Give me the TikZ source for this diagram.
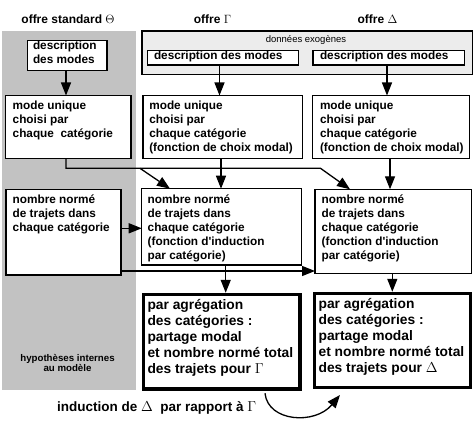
\documentclass[tikz,border=0pt]{standalone}
\usepackage{fontspec}
\setmainfont{Liberation Sans}
\usetikzlibrary{arrows.meta,calc}
\definecolor{colgray}{gray}{0.76}
\definecolor{exogray}{gray}{0.925}
\newcommand\txtlines[1]{\parbox[t]{200pt}{\raggedright\strut #1}}
\begin{document}
\begin{tikzpicture}[x=1pt,y=-1pt,
  box/.style={draw=black, line width=1.2pt, fill=white, outer sep=0pt, inner sep=0pt, anchor=north west},
  bigbox/.style={box, line width=3.5pt},
  txt/.style={anchor=north west, inner sep=0pt, outer sep=0pt, font=\bfseries\fontsize{11.8}{14}\selectfont},
  bigtxt/.style={txt, font=\bfseries\fontsize{13.8}{16}\selectfont},
  conn/.style={line width=1.3pt},
  arr/.style={conn, -{Triangle[length=13pt,width=10pt]}},
  title/.style={anchor=base, inner sep=0pt, font=\bfseries\fontsize{12}{14}\selectfont},
]
\useasboundingbox (0,0) rectangle (474,438);
\fill[white] (0,0) rectangle (474,438);

% background zones
\node[fill=colgray, inner sep=0pt, outer sep=0pt, anchor=north west, minimum width=134, minimum height=358.5] (internal) at (2,31) {};
\node[draw=black, line width=1.2pt, fill=exogray, inner sep=0pt, outer sep=0pt, anchor=north west, minimum width=330.7, minimum height=43.3] (exo) at (142,31) {};

% titles
\node[title] (t1) at (68,23.3) {offre standard $\Theta$};
\node[title] (t2) at (212.5,23.3) {offre $\Gamma$};
\node[title] (t3) at (377.5,23.3) {offre $\Delta$};
\node[anchor=base, inner sep=0pt, font=\fontsize{9.5}{11}\selectfont] (exolabel) at (306,42.3) {données exogènes};
\node[anchor=base, inner sep=0pt, align=center, font=\bfseries\fontsize{9.7}{10.6}\selectfont] (hyp) at (67.5,371.7) {hypothèses internes\\au modèle};

% boxes
\node[box, minimum width=79.3, minimum height=30.3] (dth) at (27.7,40.2) {};
\node[box, minimum width=150.6, minimum height=14.7] (dG) at (147.7,50.3) {};
\node[box, minimum width=151.3, minimum height=14.7] (dD) at (313,50.3) {};
\node[box, minimum width=125.2, minimum height=62.8] (mth) at (5.8,95.5) {};
\node[box, minimum width=159.8, minimum height=62.8] (mG) at (143,95.5) {};
\node[box, minimum width=156.7, minimum height=62.8] (mD) at (312.8,95.5) {};
\node[box, minimum width=115, minimum height=85.7] (nth) at (6,189.3) {};
\node[box, minimum width=160, minimum height=76.3] (nG) at (141.7,188.7) {};
\node[box, minimum width=156.7, minimum height=84.4] (nD) at (315,189.3) {};
\node[bigbox, minimum width=156.5, minimum height=94.7] (bG) at (143.5,294.3) {};
\node[bigbox, minimum width=156.4, minimum height=94.4] (bD) at (314.3,293.3) {};

% texts
\node[txt] (xdth) at (33,40) {\txtlines{description\\des modes}};
\node[txt] (xdG) at (154,50.2) {\txtlines{description des modes}};
\node[txt] (xdD) at (320,50.2) {\txtlines{description des modes}};
\node[txt] (xmth) at (12.7,100.2) {\txtlines{mode unique\\choisi par\\chaque~~catégorie}};
\node[txt] (xmG) at (149.3,100.2) {\txtlines{mode unique\\choisi par\\chaque catégorie\\(fonction de choix modal)}};
\node[txt] (xmD) at (320,100.2) {\txtlines{mode unique\\choisi par\\chaque catégorie\\(fonction de choix modal)}};
\node[txt] (xnth) at (12.7,194.2) {\txtlines{nombre normé\\de trajets dans\\chaque catégorie}};
\node[txt] (xnG) at (147.7,194.2) {\txtlines{nombre normé\\de trajets dans\\chaque catégorie\\(fonction d\textquotesingle induction\\par catégorie)}};
\node[txt] (xnD) at (321.7,194.2) {\txtlines{nombre normé\\de trajets dans\\chaque catégorie\\(fonction d\textquotesingle induction\\par catégorie)}};
\node[bigtxt] (xbG) at (147.5,298.3) {\txtlines{par agrégation\\des catégories :\\partage modal\\et nombre normé total\\des trajets pour $\Gamma$}};
\node[bigtxt] (xbD) at (318.6,297.8) {\txtlines{par agrégation\\des catégories :\\partage modal\\et nombre normé total\\des trajets pour $\Delta$}};

\node[anchor=base west, inner sep=0pt, font=\bfseries\fontsize{13.5}{16}\selectfont] (induc) at (57,411.5) {induction de $\Delta$\ \ par rapport à $\Gamma$};

% connectors
\draw[arr] (dth.south -| 66,0) -- (mth.north -| 66,0);
\draw[arr] (dG.south -| 219.5,0) -- (mG.north -| 219.5,0);
\draw[arr] (dD.south -| 387,0) -- (mD.north -| 387,0);
\coordinate (j0) at (66,168.3);
\coordinate (j1) at (140,168.3);
\coordinate (j2) at (320.5,168.3);
\draw[arr] (mth.south -| j0) -- (j0) -- (j2) -- (nD.north -| 350,0);
\draw[arr] (j1) -- (nG.north -| 170,0);
\draw[arr] (mG.south -| 221,0) -- (nG.north -| 221,0);
\draw[arr] (mD.south -| 390,0) -- (nD.north -| 390,0);
\draw[arr] (nth.east |- 0,228.3) -- (nG.west |- 0,228.3);
\draw[arr] (nth.east |- 0,271) -- (nD.west |- 0,271);
\draw[arr, shorten >=1.5pt] (nG.south -| 225.7,0) -- (bG.north -| 225.7,0);
\draw[arr, shorten >=1.5pt] (nD.south -| 392.3,0) -- (bD.north -| 392.3,0);
\coordinate (c0) at (265,393.3);
\coordinate (c1) at (340,395);
\draw[arr] (c0) .. controls (268,422) and (315,425) .. (c1);
\end{tikzpicture}
\end{document}
